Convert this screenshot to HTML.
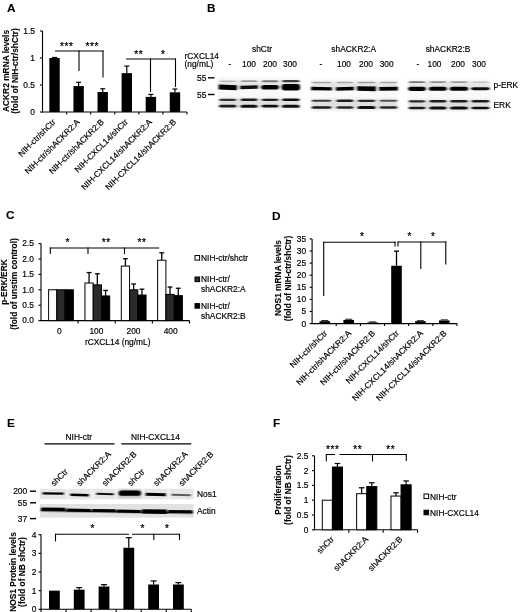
<!DOCTYPE html>
<html><head><meta charset="utf-8"><title>Figure</title>
<style>html,body{margin:0;padding:0;background:#fff}body{width:520px;height:612px;overflow:hidden}svg{display:block;font-family:"Liberation Sans",Arial,sans-serif}</style>
</head><body>
<svg width="520" height="612" viewBox="0 0 520 612">
<defs>
<filter id="b1" x="-20%" y="-150%" width="140%" height="400%"><feGaussianBlur stdDeviation="1.3 0.7"/></filter>
<filter id="b2" x="-20%" y="-150%" width="140%" height="400%"><feGaussianBlur stdDeviation="1.6 1.6"/></filter>
<filter id="soft"><feGaussianBlur stdDeviation="0.45"/></filter>
</defs>
<rect width="520" height="612" fill="#fff"/>
<g filter="url(#soft)">
<text x="7.00" y="11.70" font-size="11.8" text-anchor="start" font-weight="bold" fill="#000" stroke="#000" stroke-width="0.1">A</text>
<text x="207.00" y="11.70" font-size="11.8" text-anchor="start" font-weight="bold" fill="#000" stroke="#000" stroke-width="0.1">B</text>
<text x="6.00" y="219.20" font-size="11.8" text-anchor="start" font-weight="bold" fill="#000" stroke="#000" stroke-width="0.1">C</text>
<text x="272.00" y="219.50" font-size="11.8" text-anchor="start" font-weight="bold" fill="#000" stroke="#000" stroke-width="0.1">D</text>
<text x="7.00" y="426.70" font-size="11.8" text-anchor="start" font-weight="bold" fill="#000" stroke="#000" stroke-width="0.1">E</text>
<text x="273.00" y="426.70" font-size="11.8" text-anchor="start" font-weight="bold" fill="#000" stroke="#000" stroke-width="0.1">F</text>
<line x1="42.50" y1="31.00" x2="42.50" y2="112.50" stroke="#000" stroke-width="1.1"/>
<line x1="42.00" y1="112.00" x2="187.00" y2="112.00" stroke="#000" stroke-width="1.1"/>
<line x1="40.00" y1="112.00" x2="42.50" y2="112.00" stroke="#000" stroke-width="1.1"/>
<text x="35.00" y="114.90" font-size="8.4" text-anchor="end" fill="#000" stroke="#000" stroke-width="0.18">0</text>
<line x1="40.00" y1="85.00" x2="42.50" y2="85.00" stroke="#000" stroke-width="1.1"/>
<text x="35.00" y="87.90" font-size="8.4" text-anchor="end" fill="#000" stroke="#000" stroke-width="0.18">0.5</text>
<line x1="40.00" y1="58.00" x2="42.50" y2="58.00" stroke="#000" stroke-width="1.1"/>
<text x="35.00" y="60.90" font-size="8.4" text-anchor="end" fill="#000" stroke="#000" stroke-width="0.18">1</text>
<line x1="40.00" y1="31.00" x2="42.50" y2="31.00" stroke="#000" stroke-width="1.1"/>
<text x="35.00" y="33.90" font-size="8.4" text-anchor="end" fill="#000" stroke="#000" stroke-width="0.18">1.5</text>
<line x1="66.58" y1="112.00" x2="66.58" y2="114.50" stroke="#000" stroke-width="1.1"/>
<rect x="49.34" y="58.00" width="10.40" height="54.00" fill="#000"/>
<line x1="54.54" y1="57.46" x2="54.54" y2="58.00" stroke="#000" stroke-width="1.2"/>
<line x1="52.04" y1="57.46" x2="57.04" y2="57.46" stroke="#000" stroke-width="1.2"/>
<text x="56.24" y="122.60" font-size="8.4" text-anchor="end" transform="rotate(-45 56.24 122.60)" fill="#000" stroke="#000" stroke-width="0.18">NIH-ctr/shCtr</text>
<line x1="90.67" y1="112.00" x2="90.67" y2="114.50" stroke="#000" stroke-width="1.1"/>
<rect x="73.42" y="86.08" width="10.40" height="25.92" fill="#000"/>
<line x1="78.62" y1="82.30" x2="78.62" y2="86.08" stroke="#000" stroke-width="1.2"/>
<line x1="76.12" y1="82.30" x2="81.12" y2="82.30" stroke="#000" stroke-width="1.2"/>
<text x="80.33" y="122.60" font-size="8.4" text-anchor="end" transform="rotate(-45 80.33 122.60)" fill="#000" stroke="#000" stroke-width="0.18">NIH-ctr/shACKR2:A</text>
<line x1="114.75" y1="112.00" x2="114.75" y2="114.50" stroke="#000" stroke-width="1.1"/>
<rect x="97.51" y="92.02" width="10.40" height="19.98" fill="#000"/>
<line x1="102.71" y1="88.78" x2="102.71" y2="92.02" stroke="#000" stroke-width="1.2"/>
<line x1="100.21" y1="88.78" x2="105.21" y2="88.78" stroke="#000" stroke-width="1.2"/>
<text x="104.41" y="122.60" font-size="8.4" text-anchor="end" transform="rotate(-45 104.41 122.60)" fill="#000" stroke="#000" stroke-width="0.18">NIH-ctr/shACKR2:B</text>
<line x1="138.83" y1="112.00" x2="138.83" y2="114.50" stroke="#000" stroke-width="1.1"/>
<rect x="121.59" y="73.12" width="10.40" height="38.88" fill="#000"/>
<line x1="126.79" y1="66.10" x2="126.79" y2="73.12" stroke="#000" stroke-width="1.2"/>
<line x1="124.29" y1="66.10" x2="129.29" y2="66.10" stroke="#000" stroke-width="1.2"/>
<text x="128.49" y="122.60" font-size="8.4" text-anchor="end" transform="rotate(-45 128.49 122.60)" fill="#000" stroke="#000" stroke-width="0.18">NIH-CXCL14/shCtr</text>
<line x1="162.92" y1="112.00" x2="162.92" y2="114.50" stroke="#000" stroke-width="1.1"/>
<rect x="145.68" y="96.88" width="10.40" height="15.12" fill="#000"/>
<line x1="150.88" y1="94.45" x2="150.88" y2="96.88" stroke="#000" stroke-width="1.2"/>
<line x1="148.38" y1="94.45" x2="153.38" y2="94.45" stroke="#000" stroke-width="1.2"/>
<text x="152.57" y="122.60" font-size="8.4" text-anchor="end" transform="rotate(-45 152.57 122.60)" fill="#000" stroke="#000" stroke-width="0.18">NIH-CXCL14/shACKR2:A</text>
<line x1="187.00" y1="112.00" x2="187.00" y2="114.50" stroke="#000" stroke-width="1.1"/>
<rect x="169.76" y="92.29" width="10.40" height="19.71" fill="#000"/>
<line x1="174.96" y1="89.05" x2="174.96" y2="92.29" stroke="#000" stroke-width="1.2"/>
<line x1="172.46" y1="89.05" x2="177.46" y2="89.05" stroke="#000" stroke-width="1.2"/>
<text x="176.66" y="122.60" font-size="8.4" text-anchor="end" transform="rotate(-45 176.66 122.60)" fill="#000" stroke="#000" stroke-width="0.18">NIH-CXCL14/shACKR2:B</text>
<line x1="55.00" y1="51.00" x2="103.50" y2="51.00" stroke="#000" stroke-width="1.1"/>
<line x1="79.00" y1="50.50" x2="79.00" y2="71.00" stroke="#000" stroke-width="1.1"/>
<line x1="103.00" y1="50.50" x2="103.00" y2="77.50" stroke="#000" stroke-width="1.1"/>
<text x="66.80" y="49.80" font-size="10" text-anchor="middle" letter-spacing="0.6" fill="#000" stroke="#000" stroke-width="0.25">***</text>
<text x="92.30" y="49.80" font-size="10" text-anchor="middle" letter-spacing="0.6" fill="#000" stroke="#000" stroke-width="0.25">***</text>
<line x1="126.00" y1="59.00" x2="176.00" y2="59.00" stroke="#000" stroke-width="1.1"/>
<line x1="150.50" y1="58.50" x2="150.50" y2="92.00" stroke="#000" stroke-width="1.1"/>
<line x1="175.50" y1="58.50" x2="175.50" y2="87.00" stroke="#000" stroke-width="1.1"/>
<text x="138.80" y="57.80" font-size="10" text-anchor="middle" letter-spacing="0.6" fill="#000" stroke="#000" stroke-width="0.25">**</text>
<text x="163.30" y="57.80" font-size="10" text-anchor="middle" letter-spacing="0.6" fill="#000" stroke="#000" stroke-width="0.25">*</text>
<text x="8.90" y="71.00" font-size="8.4" text-anchor="middle" font-weight="bold" transform="rotate(-90 8.90 71.00)" fill="#000" stroke="#000" stroke-width="0.1">ACKR2 mRNA levels</text>
<text x="17.80" y="71.00" font-size="8.4" text-anchor="middle" font-weight="bold" transform="rotate(-90 17.80 71.00)" fill="#000" stroke="#000" stroke-width="0.1">(fold of NIH-ctr/shCtr)</text>
<text x="184.50" y="58.50" font-size="8.4" text-anchor="start" fill="#000" stroke="#000" stroke-width="0.18">rCXCL14</text>
<text x="184.50" y="67.00" font-size="8.4" text-anchor="start" fill="#000" stroke="#000" stroke-width="0.18">(ng/mL)</text>
<text x="197.00" y="80.80" font-size="8.4" text-anchor="start" fill="#000" stroke="#000" stroke-width="0.18">55</text>
<line x1="208.00" y1="77.80" x2="214.50" y2="77.80" stroke="#000" stroke-width="1.4"/>
<text x="197.00" y="97.60" font-size="8.4" text-anchor="start" fill="#000" stroke="#000" stroke-width="0.18">55</text>
<line x1="208.00" y1="94.50" x2="214.50" y2="94.50" stroke="#000" stroke-width="1.4"/>
<text x="262.00" y="51.50" font-size="8.4" text-anchor="middle" fill="#000" stroke="#000" stroke-width="0.18">shCtr</text>
<text x="230.00" y="66.50" font-size="8.4" text-anchor="middle" fill="#000" stroke="#000" stroke-width="0.18">-</text>
<text x="249.00" y="66.50" font-size="8.4" text-anchor="middle" fill="#000" stroke="#000" stroke-width="0.18">100</text>
<text x="270.00" y="66.50" font-size="8.4" text-anchor="middle" fill="#000" stroke="#000" stroke-width="0.18">200</text>
<text x="290.00" y="66.50" font-size="8.4" text-anchor="middle" fill="#000" stroke="#000" stroke-width="0.18">300</text>
<rect x="217.70" y="77.20" width="83.10" height="33.50" fill="#f9f9f9"/>
<rect x="218.7" y="98.3" width="81.1" height="9.4" fill="#000" opacity="0.10" filter="url(#b2)"/>
<rect x="218.7" y="80.7" width="81.1" height="7.1" fill="#000" opacity="0.08" filter="url(#b2)"/>
<rect x="218.9" y="80.40" width="17.7" height="1.60" rx="3.00" ry="0.80" fill="#000" opacity="0.22" filter="url(#b1)"/>
<polygon points="218.6,84.40 236.9,85.20 236.9,90.20 218.6,89.40" fill="#000" opacity="1" filter="url(#b1)"/>
<rect x="218.9" y="98.70" width="17.7" height="2.20" rx="3.00" ry="1.10" fill="#000" opacity="0.782" filter="url(#b1)"/>
<rect x="218.9" y="104.80" width="17.7" height="2.80" rx="3.00" ry="1.40" fill="#000" opacity="0.874" filter="url(#b1)"/>
<rect x="240.4" y="80.30" width="17.2" height="1.80" rx="3.00" ry="0.90" fill="#000" opacity="0.35" filter="url(#b1)"/>
<polygon points="240.1,85.85 257.9,85.35 257.9,88.75 240.1,89.25" fill="#000" opacity="0.95" filter="url(#b1)"/>
<rect x="240.4" y="98.60" width="17.2" height="2.40" rx="3.00" ry="1.20" fill="#000" opacity="0.874" filter="url(#b1)"/>
<rect x="240.4" y="104.70" width="17.2" height="3.00" rx="3.00" ry="1.50" fill="#000" opacity="0.92" filter="url(#b1)"/>
<rect x="261.4" y="80.20" width="17.2" height="2.00" rx="3.00" ry="1.00" fill="#000" opacity="0.5" filter="url(#b1)"/>
<rect x="261.1" y="85.00" width="17.8" height="4.60" rx="3.00" ry="2.30" fill="#000" opacity="1" filter="url(#b1)"/>
<rect x="261.4" y="98.65" width="17.2" height="2.30" rx="3.00" ry="1.15" fill="#000" opacity="0.874" filter="url(#b1)"/>
<rect x="261.4" y="104.80" width="17.2" height="2.80" rx="3.00" ry="1.40" fill="#000" opacity="0.92" filter="url(#b1)"/>
<rect x="281.9" y="80.10" width="17.9" height="2.20" rx="3.00" ry="1.10" fill="#000" opacity="0.75" filter="url(#b1)"/>
<rect x="281.6" y="84.10" width="18.5" height="6.40" rx="3.00" ry="3.20" fill="#000" opacity="1" filter="url(#b1)"/>
<rect x="281.9" y="98.55" width="17.9" height="2.50" rx="3.00" ry="1.25" fill="#000" opacity="0.92" filter="url(#b1)"/>
<rect x="281.9" y="104.65" width="17.9" height="3.10" rx="3.00" ry="1.55" fill="#000" opacity="0.92" filter="url(#b1)"/>
<text x="353.70" y="51.50" font-size="8.4" text-anchor="middle" fill="#000" stroke="#000" stroke-width="0.18">shACKR2:A</text>
<text x="321.00" y="66.50" font-size="8.4" text-anchor="middle" fill="#000" stroke="#000" stroke-width="0.18">-</text>
<text x="344.00" y="66.50" font-size="8.4" text-anchor="middle" fill="#000" stroke="#000" stroke-width="0.18">100</text>
<text x="366.00" y="66.50" font-size="8.4" text-anchor="middle" fill="#000" stroke="#000" stroke-width="0.18">200</text>
<text x="386.70" y="66.50" font-size="8.4" text-anchor="middle" fill="#000" stroke="#000" stroke-width="0.18">300</text>
<rect x="310.40" y="78.50" width="88.10" height="33.50" fill="#f9f9f9"/>
<rect x="311.4" y="99.3" width="86.1" height="9.7" fill="#000" opacity="0.10" filter="url(#b2)"/>
<rect x="311.4" y="82.0" width="86.1" height="7.2" fill="#000" opacity="0.08" filter="url(#b2)"/>
<rect x="311.4" y="81.75" width="20.2" height="1.50" rx="3.00" ry="0.75" fill="#000" opacity="0.3" filter="url(#b1)"/>
<polygon points="311.1,86.85 331.9,87.15 331.9,90.55 311.1,90.25" fill="#000" opacity="1" filter="url(#b1)"/>
<rect x="311.4" y="99.80" width="20.2" height="2.00" rx="3.00" ry="1.00" fill="#000" opacity="0.7360000000000001" filter="url(#b1)"/>
<rect x="311.4" y="106.20" width="20.2" height="2.60" rx="3.00" ry="1.30" fill="#000" opacity="0.874" filter="url(#b1)"/>
<rect x="336.2" y="81.75" width="17.4" height="1.50" rx="3.00" ry="0.75" fill="#000" opacity="0.3" filter="url(#b1)"/>
<polygon points="335.9,87.25 353.9,86.75 353.9,90.15 335.9,90.65" fill="#000" opacity="1" filter="url(#b1)"/>
<rect x="336.2" y="99.60" width="17.4" height="2.40" rx="3.00" ry="1.20" fill="#000" opacity="0.874" filter="url(#b1)"/>
<rect x="336.2" y="106.20" width="17.4" height="2.60" rx="3.00" ry="1.30" fill="#000" opacity="0.8280000000000001" filter="url(#b1)"/>
<rect x="357.4" y="81.70" width="18.2" height="1.60" rx="3.00" ry="0.80" fill="#000" opacity="0.35" filter="url(#b1)"/>
<polygon points="357.1,86.25 375.9,86.55 375.9,91.15 357.1,90.85" fill="#000" opacity="1" filter="url(#b1)"/>
<rect x="357.4" y="99.65" width="18.2" height="2.30" rx="3.00" ry="1.15" fill="#000" opacity="0.8280000000000001" filter="url(#b1)"/>
<rect x="357.4" y="105.90" width="18.2" height="3.20" rx="3.00" ry="1.60" fill="#000" opacity="0.92" filter="url(#b1)"/>
<rect x="379.4" y="81.75" width="18.2" height="1.50" rx="3.00" ry="0.75" fill="#000" opacity="0.3" filter="url(#b1)"/>
<polygon points="379.1,87.00 397.9,86.70 397.9,90.40 379.1,90.70" fill="#000" opacity="1" filter="url(#b1)"/>
<rect x="379.4" y="99.85" width="18.2" height="1.90" rx="3.00" ry="0.95" fill="#000" opacity="0.644" filter="url(#b1)"/>
<rect x="379.4" y="106.20" width="18.2" height="2.60" rx="3.00" ry="1.30" fill="#000" opacity="0.8280000000000001" filter="url(#b1)"/>
<text x="448.00" y="51.50" font-size="8.4" text-anchor="middle" fill="#000" stroke="#000" stroke-width="0.18">shACKR2:B</text>
<text x="418.00" y="66.50" font-size="8.4" text-anchor="middle" fill="#000" stroke="#000" stroke-width="0.18">-</text>
<text x="434.50" y="66.50" font-size="8.4" text-anchor="middle" fill="#000" stroke="#000" stroke-width="0.18">100</text>
<text x="458.00" y="66.50" font-size="8.4" text-anchor="middle" fill="#000" stroke="#000" stroke-width="0.18">200</text>
<text x="479.00" y="66.50" font-size="8.4" text-anchor="middle" fill="#000" stroke="#000" stroke-width="0.18">300</text>
<rect x="407.30" y="78.10" width="83.20" height="34.40" fill="#f9f9f9"/>
<rect x="408.3" y="99.8" width="81.2" height="9.7" fill="#000" opacity="0.10" filter="url(#b2)"/>
<rect x="408.3" y="81.6" width="81.2" height="7.7" fill="#000" opacity="0.08" filter="url(#b2)"/>
<rect x="408.4" y="81.25" width="17.2" height="1.70" rx="3.00" ry="0.85" fill="#000" opacity="0.5" filter="url(#b1)"/>
<rect x="408.1" y="86.70" width="17.8" height="4.20" rx="3.00" ry="2.10" fill="#000" opacity="1" filter="url(#b1)"/>
<rect x="408.4" y="100.20" width="17.2" height="2.20" rx="3.00" ry="1.10" fill="#000" opacity="0.8280000000000001" filter="url(#b1)"/>
<rect x="408.4" y="106.65" width="17.2" height="2.70" rx="3.00" ry="1.35" fill="#000" opacity="0.874" filter="url(#b1)"/>
<rect x="429.2" y="81.30" width="17.4" height="1.60" rx="3.00" ry="0.80" fill="#000" opacity="0.4" filter="url(#b1)"/>
<rect x="428.9" y="86.80" width="18.0" height="4.00" rx="3.00" ry="2.00" fill="#000" opacity="1" filter="url(#b1)"/>
<rect x="429.2" y="100.00" width="17.4" height="2.60" rx="3.00" ry="1.30" fill="#000" opacity="0.874" filter="url(#b1)"/>
<rect x="429.2" y="106.50" width="17.4" height="3.00" rx="3.00" ry="1.50" fill="#000" opacity="0.92" filter="url(#b1)"/>
<rect x="450.0" y="81.30" width="17.9" height="1.60" rx="3.00" ry="0.80" fill="#000" opacity="0.35" filter="url(#b1)"/>
<rect x="449.7" y="86.80" width="18.5" height="4.00" rx="3.00" ry="2.00" fill="#000" opacity="1" filter="url(#b1)"/>
<rect x="450.0" y="100.05" width="17.9" height="2.50" rx="3.00" ry="1.25" fill="#000" opacity="0.874" filter="url(#b1)"/>
<rect x="450.0" y="106.50" width="17.9" height="3.00" rx="3.00" ry="1.50" fill="#000" opacity="0.92" filter="url(#b1)"/>
<rect x="471.2" y="81.40" width="18.4" height="1.40" rx="3.00" ry="0.70" fill="#000" opacity="0.2" filter="url(#b1)"/>
<rect x="470.9" y="87.35" width="19.0" height="2.90" rx="3.00" ry="1.45" fill="#000" opacity="0.95" filter="url(#b1)"/>
<rect x="471.2" y="100.10" width="18.4" height="2.40" rx="3.00" ry="1.20" fill="#000" opacity="0.874" filter="url(#b1)"/>
<rect x="471.2" y="106.70" width="18.4" height="2.60" rx="3.00" ry="1.30" fill="#000" opacity="0.92" filter="url(#b1)"/>
<text x="493.50" y="88.00" font-size="8.4" text-anchor="start" fill="#000" stroke="#000" stroke-width="0.18">p-ERK</text>
<text x="493.50" y="107.50" font-size="8.4" text-anchor="start" fill="#000" stroke="#000" stroke-width="0.18">ERK</text>
<line x1="41.00" y1="243.60" x2="41.00" y2="321.10" stroke="#000" stroke-width="1.1"/>
<line x1="40.50" y1="320.60" x2="189.50" y2="320.60" stroke="#000" stroke-width="1.1"/>
<line x1="38.50" y1="320.60" x2="41.00" y2="320.60" stroke="#000" stroke-width="1.1"/>
<text x="34.00" y="323.40" font-size="8.4" text-anchor="end" fill="#000" stroke="#000" stroke-width="0.18">0.0</text>
<line x1="38.50" y1="305.20" x2="41.00" y2="305.20" stroke="#000" stroke-width="1.1"/>
<text x="34.00" y="308.00" font-size="8.4" text-anchor="end" fill="#000" stroke="#000" stroke-width="0.18">0.5</text>
<line x1="38.50" y1="289.80" x2="41.00" y2="289.80" stroke="#000" stroke-width="1.1"/>
<text x="34.00" y="292.60" font-size="8.4" text-anchor="end" fill="#000" stroke="#000" stroke-width="0.18">1.0</text>
<line x1="38.50" y1="274.40" x2="41.00" y2="274.40" stroke="#000" stroke-width="1.1"/>
<text x="34.00" y="277.20" font-size="8.4" text-anchor="end" fill="#000" stroke="#000" stroke-width="0.18">1.5</text>
<line x1="38.50" y1="259.00" x2="41.00" y2="259.00" stroke="#000" stroke-width="1.1"/>
<text x="34.00" y="261.80" font-size="8.4" text-anchor="end" fill="#000" stroke="#000" stroke-width="0.18">2.0</text>
<line x1="38.50" y1="243.60" x2="41.00" y2="243.60" stroke="#000" stroke-width="1.1"/>
<text x="34.00" y="246.40" font-size="8.4" text-anchor="end" fill="#000" stroke="#000" stroke-width="0.18">2.5</text>
<line x1="78.12" y1="320.60" x2="78.12" y2="323.60" stroke="#000" stroke-width="1.1"/>
<rect x="48.60" y="289.80" width="8.25" height="30.80" fill="#fff" stroke="#000" stroke-width="1.0"/>
<rect x="56.85" y="289.80" width="8.25" height="30.80" fill="#2b2b2b" stroke="#000" stroke-width="1.0"/>
<rect x="65.10" y="289.80" width="8.25" height="30.80" fill="#000" stroke="#000" stroke-width="1.0"/>
<text x="59.26" y="334.30" font-size="8.4" text-anchor="middle" fill="#000" stroke="#000" stroke-width="0.18">0</text>
<line x1="115.25" y1="320.60" x2="115.25" y2="323.60" stroke="#000" stroke-width="1.1"/>
<line x1="89.08" y1="272.55" x2="89.08" y2="283.02" stroke="#000" stroke-width="1.3"/>
<line x1="86.67" y1="272.55" x2="91.48" y2="272.55" stroke="#000" stroke-width="1.3"/>
<rect x="84.95" y="283.02" width="8.25" height="37.58" fill="#fff" stroke="#000" stroke-width="1.0"/>
<line x1="97.33" y1="273.78" x2="97.33" y2="284.87" stroke="#000" stroke-width="1.3"/>
<line x1="94.92" y1="273.78" x2="99.73" y2="273.78" stroke="#000" stroke-width="1.3"/>
<rect x="93.20" y="284.87" width="8.25" height="35.73" fill="#2b2b2b" stroke="#000" stroke-width="1.0"/>
<line x1="105.58" y1="290.42" x2="105.58" y2="295.96" stroke="#000" stroke-width="1.3"/>
<line x1="103.17" y1="290.42" x2="107.98" y2="290.42" stroke="#000" stroke-width="1.3"/>
<rect x="101.45" y="295.96" width="8.25" height="24.64" fill="#000" stroke="#000" stroke-width="1.0"/>
<text x="96.39" y="334.30" font-size="8.4" text-anchor="middle" fill="#000" stroke="#000" stroke-width="0.18">100</text>
<line x1="152.38" y1="320.60" x2="152.38" y2="323.60" stroke="#000" stroke-width="1.1"/>
<line x1="125.43" y1="258.69" x2="125.43" y2="266.08" stroke="#000" stroke-width="1.3"/>
<line x1="123.03" y1="258.69" x2="127.83" y2="258.69" stroke="#000" stroke-width="1.3"/>
<rect x="121.30" y="266.08" width="8.25" height="54.52" fill="#fff" stroke="#000" stroke-width="1.0"/>
<line x1="133.68" y1="283.95" x2="133.68" y2="289.80" stroke="#000" stroke-width="1.3"/>
<line x1="131.28" y1="283.95" x2="136.08" y2="283.95" stroke="#000" stroke-width="1.3"/>
<rect x="129.55" y="289.80" width="8.25" height="30.80" fill="#2b2b2b" stroke="#000" stroke-width="1.0"/>
<line x1="141.93" y1="289.18" x2="141.93" y2="295.04" stroke="#000" stroke-width="1.3"/>
<line x1="139.53" y1="289.18" x2="144.33" y2="289.18" stroke="#000" stroke-width="1.3"/>
<rect x="137.80" y="295.04" width="8.25" height="25.56" fill="#000" stroke="#000" stroke-width="1.0"/>
<text x="133.51" y="334.30" font-size="8.4" text-anchor="middle" fill="#000" stroke="#000" stroke-width="0.18">200</text>
<line x1="189.50" y1="320.60" x2="189.50" y2="323.60" stroke="#000" stroke-width="1.1"/>
<line x1="161.78" y1="252.84" x2="161.78" y2="260.23" stroke="#000" stroke-width="1.3"/>
<line x1="159.38" y1="252.84" x2="164.18" y2="252.84" stroke="#000" stroke-width="1.3"/>
<rect x="157.65" y="260.23" width="8.25" height="60.37" fill="#fff" stroke="#000" stroke-width="1.0"/>
<line x1="170.03" y1="287.03" x2="170.03" y2="294.42" stroke="#000" stroke-width="1.3"/>
<line x1="167.62" y1="287.03" x2="172.43" y2="287.03" stroke="#000" stroke-width="1.3"/>
<rect x="165.90" y="294.42" width="8.25" height="26.18" fill="#2b2b2b" stroke="#000" stroke-width="1.0"/>
<line x1="178.28" y1="288.26" x2="178.28" y2="295.65" stroke="#000" stroke-width="1.3"/>
<line x1="175.88" y1="288.26" x2="180.68" y2="288.26" stroke="#000" stroke-width="1.3"/>
<rect x="174.15" y="295.65" width="8.25" height="24.95" fill="#000" stroke="#000" stroke-width="1.0"/>
<text x="170.64" y="334.30" font-size="8.4" text-anchor="middle" fill="#000" stroke="#000" stroke-width="0.18">400</text>
<text x="117.70" y="345.30" font-size="8.4" text-anchor="middle" fill="#000" stroke="#000" stroke-width="0.18">rCXCL14 (ng/mL)</text>
<line x1="49.80" y1="248.00" x2="159.20" y2="248.00" stroke="#000" stroke-width="1.1"/>
<line x1="50.30" y1="247.50" x2="50.30" y2="254.00" stroke="#000" stroke-width="1.1"/>
<line x1="88.00" y1="247.50" x2="88.00" y2="254.00" stroke="#000" stroke-width="1.1"/>
<line x1="124.50" y1="247.50" x2="124.50" y2="254.00" stroke="#000" stroke-width="1.1"/>
<text x="67.80" y="245.60" font-size="10" text-anchor="middle" letter-spacing="0.6" fill="#000" stroke="#000" stroke-width="0.25">*</text>
<text x="106.30" y="245.60" font-size="10" text-anchor="middle" letter-spacing="0.6" fill="#000" stroke="#000" stroke-width="0.25">**</text>
<text x="142.00" y="245.60" font-size="10" text-anchor="middle" letter-spacing="0.6" fill="#000" stroke="#000" stroke-width="0.25">**</text>
<text x="6.50" y="282.00" font-size="8.4" text-anchor="middle" font-weight="bold" transform="rotate(-90 6.50 282.00)" fill="#000" stroke="#000" stroke-width="0.1">p-ERK/ERK</text>
<text x="17.20" y="284.00" font-size="8.4" text-anchor="middle" font-weight="bold" transform="rotate(-90 17.20 284.00)" fill="#000" stroke="#000" stroke-width="0.1">(fold of unstim control)</text>
<rect x="195.00" y="255.50" width="4.60" height="4.60" fill="#fff" stroke="#000" stroke-width="1.0"/>
<text x="201.00" y="260.90" font-size="8.4" text-anchor="start" fill="#000" stroke="#000" stroke-width="0.18">NIH-ctr/shctr</text>
<rect x="195.00" y="277.00" width="4.60" height="4.60" fill="#2b2b2b" stroke="#000" stroke-width="1.0"/>
<text x="201.00" y="282.40" font-size="8.4" text-anchor="start" fill="#000" stroke="#000" stroke-width="0.18">NIH-ctr/</text>
<text x="201.00" y="292.00" font-size="8.4" text-anchor="start" fill="#000" stroke="#000" stroke-width="0.18">shACKR2:A</text>
<rect x="195.00" y="303.60" width="4.60" height="4.60" fill="#000" stroke="#000" stroke-width="1.0"/>
<text x="201.00" y="309.00" font-size="8.4" text-anchor="start" fill="#000" stroke="#000" stroke-width="0.18">NIH-ctr/</text>
<text x="201.00" y="318.50" font-size="8.4" text-anchor="start" fill="#000" stroke="#000" stroke-width="0.18">shACKR2:B</text>
<line x1="312.10" y1="238.90" x2="312.10" y2="324.10" stroke="#000" stroke-width="1.1"/>
<line x1="311.60" y1="323.60" x2="457.00" y2="323.60" stroke="#000" stroke-width="1.1"/>
<line x1="309.60" y1="323.60" x2="312.10" y2="323.60" stroke="#000" stroke-width="1.1"/>
<text x="306.20" y="326.50" font-size="8.4" text-anchor="end" fill="#000" stroke="#000" stroke-width="0.18">0</text>
<line x1="309.60" y1="311.50" x2="312.10" y2="311.50" stroke="#000" stroke-width="1.1"/>
<text x="306.20" y="314.40" font-size="8.4" text-anchor="end" fill="#000" stroke="#000" stroke-width="0.18">5</text>
<line x1="309.60" y1="299.40" x2="312.10" y2="299.40" stroke="#000" stroke-width="1.1"/>
<text x="306.20" y="302.30" font-size="8.4" text-anchor="end" fill="#000" stroke="#000" stroke-width="0.18">10</text>
<line x1="309.60" y1="287.30" x2="312.10" y2="287.30" stroke="#000" stroke-width="1.1"/>
<text x="306.20" y="290.20" font-size="8.4" text-anchor="end" fill="#000" stroke="#000" stroke-width="0.18">15</text>
<line x1="309.60" y1="275.20" x2="312.10" y2="275.20" stroke="#000" stroke-width="1.1"/>
<text x="306.20" y="278.10" font-size="8.4" text-anchor="end" fill="#000" stroke="#000" stroke-width="0.18">20</text>
<line x1="309.60" y1="263.10" x2="312.10" y2="263.10" stroke="#000" stroke-width="1.1"/>
<text x="306.20" y="266.00" font-size="8.4" text-anchor="end" fill="#000" stroke="#000" stroke-width="0.18">25</text>
<line x1="309.60" y1="251.00" x2="312.10" y2="251.00" stroke="#000" stroke-width="1.1"/>
<text x="306.20" y="253.90" font-size="8.4" text-anchor="end" fill="#000" stroke="#000" stroke-width="0.18">30</text>
<line x1="309.60" y1="238.90" x2="312.10" y2="238.90" stroke="#000" stroke-width="1.1"/>
<text x="306.20" y="241.80" font-size="8.4" text-anchor="end" fill="#000" stroke="#000" stroke-width="0.18">35</text>
<line x1="336.25" y1="323.60" x2="336.25" y2="326.10" stroke="#000" stroke-width="1.1"/>
<rect x="319.50" y="321.18" width="10.60" height="2.42" fill="#000"/>
<line x1="321.30" y1="320.58" x2="328.30" y2="320.58" stroke="#000" stroke-width="0.9"/>
<text x="327.80" y="333.80" font-size="8.4" text-anchor="end" transform="rotate(-45 327.80 333.80)" fill="#000" stroke="#000" stroke-width="0.18">NIH-ctr/shCtr</text>
<line x1="360.40" y1="323.60" x2="360.40" y2="326.10" stroke="#000" stroke-width="1.1"/>
<rect x="343.40" y="319.97" width="10.60" height="3.63" fill="#000"/>
<line x1="345.20" y1="319.24" x2="352.20" y2="319.24" stroke="#000" stroke-width="0.9"/>
<text x="351.70" y="333.80" font-size="8.4" text-anchor="end" transform="rotate(-45 351.70 333.80)" fill="#000" stroke="#000" stroke-width="0.18">NIH-ctr/shACKR2:A</text>
<line x1="384.55" y1="323.60" x2="384.55" y2="326.10" stroke="#000" stroke-width="1.1"/>
<rect x="367.30" y="322.39" width="10.60" height="1.21" fill="#000"/>
<line x1="369.10" y1="321.91" x2="376.10" y2="321.91" stroke="#000" stroke-width="0.9"/>
<text x="375.60" y="333.80" font-size="8.4" text-anchor="end" transform="rotate(-45 375.60 333.80)" fill="#000" stroke="#000" stroke-width="0.18">NIH-ctr/shACKR2:B</text>
<line x1="408.70" y1="323.60" x2="408.70" y2="326.10" stroke="#000" stroke-width="1.1"/>
<rect x="391.20" y="265.76" width="10.60" height="57.84" fill="#000"/>
<line x1="396.50" y1="251.12" x2="396.50" y2="265.76" stroke="#000" stroke-width="1.3"/>
<line x1="394.00" y1="251.12" x2="399.00" y2="251.12" stroke="#000" stroke-width="1.3"/>
<text x="399.50" y="333.80" font-size="8.4" text-anchor="end" transform="rotate(-45 399.50 333.80)" fill="#000" stroke="#000" stroke-width="0.18">NIH-CXCL14/shCtr</text>
<line x1="432.85" y1="323.60" x2="432.85" y2="326.10" stroke="#000" stroke-width="1.1"/>
<rect x="415.10" y="321.18" width="10.60" height="2.42" fill="#000"/>
<line x1="416.90" y1="320.70" x2="423.90" y2="320.70" stroke="#000" stroke-width="0.9"/>
<text x="423.40" y="333.80" font-size="8.4" text-anchor="end" transform="rotate(-45 423.40 333.80)" fill="#000" stroke="#000" stroke-width="0.18">NIH-CXCL14/shACKR2:A</text>
<line x1="457.00" y1="323.60" x2="457.00" y2="326.10" stroke="#000" stroke-width="1.1"/>
<rect x="439.00" y="320.45" width="10.60" height="3.15" fill="#000"/>
<line x1="440.80" y1="319.85" x2="447.80" y2="319.85" stroke="#000" stroke-width="0.9"/>
<text x="447.30" y="333.80" font-size="8.4" text-anchor="end" transform="rotate(-45 447.30 333.80)" fill="#000" stroke="#000" stroke-width="0.18">NIH-CXCL14/shACKR2:B</text>
<line x1="323.20" y1="242.20" x2="395.50" y2="242.20" stroke="#000" stroke-width="1.1"/>
<line x1="323.70" y1="241.70" x2="323.70" y2="296.00" stroke="#000" stroke-width="1.1"/>
<line x1="395.00" y1="241.50" x2="395.00" y2="246.50" stroke="#000" stroke-width="1.1"/>
<line x1="397.50" y1="242.00" x2="446.30" y2="242.00" stroke="#000" stroke-width="1.1"/>
<line x1="398.00" y1="241.50" x2="398.00" y2="246.50" stroke="#000" stroke-width="1.1"/>
<line x1="420.80" y1="241.50" x2="420.80" y2="269.00" stroke="#000" stroke-width="1.1"/>
<line x1="445.80" y1="241.50" x2="445.80" y2="264.50" stroke="#000" stroke-width="1.1"/>
<text x="362.30" y="240.30" font-size="10" text-anchor="middle" letter-spacing="0.6" fill="#000" stroke="#000" stroke-width="0.25">*</text>
<text x="409.80" y="240.30" font-size="10" text-anchor="middle" letter-spacing="0.6" fill="#000" stroke="#000" stroke-width="0.25">*</text>
<text x="433.30" y="240.30" font-size="10" text-anchor="middle" letter-spacing="0.6" fill="#000" stroke="#000" stroke-width="0.25">*</text>
<text x="280.80" y="278.00" font-size="8.4" text-anchor="middle" font-weight="bold" transform="rotate(-90 280.80 278.00)" fill="#000" stroke="#000" stroke-width="0.1">NOS1 mRNA levels</text>
<text x="290.60" y="278.50" font-size="8.4" text-anchor="middle" font-weight="bold" transform="rotate(-90 290.60 278.50)" fill="#000" stroke="#000" stroke-width="0.1">(fold of NIH-ctr/shCtr)</text>
<text x="78.80" y="439.80" font-size="8.4" text-anchor="middle" fill="#000" stroke="#000" stroke-width="0.18">NIH-ctr</text>
<line x1="44.50" y1="443.80" x2="114.50" y2="443.80" stroke="#000" stroke-width="1.2"/>
<text x="155.50" y="439.80" font-size="8.4" text-anchor="middle" fill="#000" stroke="#000" stroke-width="0.18">NIH-CXCL14</text>
<line x1="121.30" y1="443.80" x2="191.30" y2="443.80" stroke="#000" stroke-width="1.2"/>
<text x="54.30" y="486.50" font-size="8.4" text-anchor="start" transform="rotate(-45 54.30 486.50)" fill="#000" stroke="#000" stroke-width="0.18">shCtr</text>
<text x="79.90" y="486.50" font-size="8.4" text-anchor="start" transform="rotate(-45 79.90 486.50)" fill="#000" stroke="#000" stroke-width="0.18">shACKR2:A</text>
<text x="105.50" y="486.50" font-size="8.4" text-anchor="start" transform="rotate(-45 105.50 486.50)" fill="#000" stroke="#000" stroke-width="0.18">shACKR2:B</text>
<text x="131.10" y="486.50" font-size="8.4" text-anchor="start" transform="rotate(-45 131.10 486.50)" fill="#000" stroke="#000" stroke-width="0.18">shCtr</text>
<text x="156.70" y="486.50" font-size="8.4" text-anchor="start" transform="rotate(-45 156.70 486.50)" fill="#000" stroke="#000" stroke-width="0.18">shACKR2:A</text>
<text x="182.30" y="486.50" font-size="8.4" text-anchor="start" transform="rotate(-45 182.30 486.50)" fill="#000" stroke="#000" stroke-width="0.18">shACKR2:B</text>
<rect x="40.00" y="488.70" width="153.60" height="10.60" fill="#e6e6e6"/>
<rect x="40.00" y="504.00" width="153.60" height="13.60" fill="#e2e2e2"/>
<rect x="66.3" y="488.7" width="2.4" height="10.6" fill="#fff" opacity="0.55" filter="url(#b1)"/>
<rect x="91.3" y="488.7" width="2.4" height="10.6" fill="#fff" opacity="0.55" filter="url(#b1)"/>
<rect x="115.3" y="488.7" width="2.4" height="10.6" fill="#fff" opacity="0.55" filter="url(#b1)"/>
<rect x="141.8" y="488.7" width="2.4" height="10.6" fill="#fff" opacity="0.55" filter="url(#b1)"/>
<rect x="167.3" y="488.7" width="2.4" height="10.6" fill="#fff" opacity="0.55" filter="url(#b1)"/>
<polygon points="42.5,492.25 63.7,492.55 63.7,494.75 42.5,494.45" fill="#000" opacity="1.0" filter="url(#b1)"/>
<polygon points="70.4,493.45 88.7,494.05 88.7,496.55 70.4,495.95" fill="#000" opacity="1.0" filter="url(#b1)"/>
<polygon points="96.3,492.85 113.7,493.15 113.7,495.15 96.3,494.85" fill="#000" opacity="0.92" filter="url(#b1)"/>
<rect x="118.7" y="490.60" width="22.1" height="5.20" rx="3.00" ry="2.60" fill="#000" opacity="1.0" filter="url(#b1)"/>
<polygon points="145.6,492.75 165.8,493.25 165.8,496.25 145.6,495.75" fill="#000" opacity="1.0" filter="url(#b1)"/>
<polygon points="171.5,493.80 190.8,494.30 190.8,496.20 171.5,495.70" fill="#000" opacity="0.6" filter="url(#b1)"/>
<rect x="119" y="490" width="22" height="7" fill="#000" opacity="0.25" filter="url(#b2)"/>
<polygon points="41.0,507.40 65.5,507.80 65.5,511.00 41.0,510.60" fill="#000" opacity="1.0" filter="url(#b1)"/>
<polygon points="66.5,508.50 91.0,508.90 91.0,511.90 66.5,511.50" fill="#000" opacity="1.0" filter="url(#b1)"/>
<polygon points="92.0,508.90 116.0,509.30 116.0,512.30 92.0,511.90" fill="#000" opacity="1.0" filter="url(#b1)"/>
<polygon points="117.0,509.50 141.0,509.90 141.0,512.90 117.0,512.50" fill="#000" opacity="1.0" filter="url(#b1)"/>
<polygon points="142.0,509.20 167.0,509.60 167.0,514.00 142.0,513.60" fill="#000" opacity="1.0" filter="url(#b1)"/>
<polygon points="168.0,509.90 192.5,510.30 192.5,513.10 168.0,512.70" fill="#000" opacity="1.0" filter="url(#b1)"/>
<rect x="41.0" y="509.6" width="151.6" height="1.8" fill="#000" opacity="0.9" filter="url(#b1)" transform="rotate(0.9 40 510)"/>
<text x="27.20" y="494.20" font-size="8.4" text-anchor="end" fill="#000" stroke="#000" stroke-width="0.18">200</text>
<line x1="30.00" y1="491.20" x2="36.00" y2="491.20" stroke="#000" stroke-width="1.4"/>
<text x="27.20" y="506.00" font-size="8.4" text-anchor="end" fill="#000" stroke="#000" stroke-width="0.18">55</text>
<line x1="30.00" y1="502.80" x2="36.00" y2="502.80" stroke="#000" stroke-width="1.4"/>
<text x="27.20" y="522.00" font-size="8.4" text-anchor="end" fill="#000" stroke="#000" stroke-width="0.18">37</text>
<line x1="30.00" y1="518.60" x2="36.00" y2="518.60" stroke="#000" stroke-width="1.4"/>
<text x="197.00" y="496.70" font-size="8.4" text-anchor="start" fill="#000" stroke="#000" stroke-width="0.18">Nos1</text>
<text x="197.00" y="514.00" font-size="8.4" text-anchor="start" fill="#000" stroke="#000" stroke-width="0.18">Actin</text>
<line x1="41.00" y1="534.30" x2="41.00" y2="612.00" stroke="#000" stroke-width="1.1"/>
<line x1="40.50" y1="609.30" x2="191.30" y2="609.30" stroke="#000" stroke-width="1.1"/>
<line x1="38.50" y1="609.30" x2="41.00" y2="609.30" stroke="#000" stroke-width="1.1"/>
<text x="36.50" y="612.20" font-size="8.4" text-anchor="end" fill="#000" stroke="#000" stroke-width="0.18">0</text>
<line x1="38.50" y1="590.65" x2="41.00" y2="590.65" stroke="#000" stroke-width="1.1"/>
<text x="36.50" y="593.55" font-size="8.4" text-anchor="end" fill="#000" stroke="#000" stroke-width="0.18">1</text>
<line x1="38.50" y1="572.00" x2="41.00" y2="572.00" stroke="#000" stroke-width="1.1"/>
<text x="36.50" y="574.90" font-size="8.4" text-anchor="end" fill="#000" stroke="#000" stroke-width="0.18">2</text>
<line x1="38.50" y1="553.35" x2="41.00" y2="553.35" stroke="#000" stroke-width="1.1"/>
<text x="36.50" y="556.25" font-size="8.4" text-anchor="end" fill="#000" stroke="#000" stroke-width="0.18">3</text>
<line x1="38.50" y1="534.70" x2="41.00" y2="534.70" stroke="#000" stroke-width="1.1"/>
<text x="36.50" y="537.60" font-size="8.4" text-anchor="end" fill="#000" stroke="#000" stroke-width="0.18">4</text>
<line x1="66.05" y1="609.30" x2="66.05" y2="612.00" stroke="#000" stroke-width="1.1"/>
<rect x="49.00" y="590.65" width="10.80" height="18.65" fill="#000"/>
<line x1="91.10" y1="609.30" x2="91.10" y2="612.00" stroke="#000" stroke-width="1.1"/>
<rect x="73.80" y="589.72" width="10.80" height="19.58" fill="#000"/>
<line x1="79.20" y1="587.67" x2="79.20" y2="589.72" stroke="#000" stroke-width="1.2"/>
<line x1="76.20" y1="587.67" x2="82.20" y2="587.67" stroke="#000" stroke-width="1.2"/>
<line x1="116.15" y1="609.30" x2="116.15" y2="612.00" stroke="#000" stroke-width="1.1"/>
<rect x="98.60" y="586.55" width="10.80" height="22.75" fill="#000"/>
<line x1="104.00" y1="584.68" x2="104.00" y2="586.55" stroke="#000" stroke-width="1.2"/>
<line x1="101.00" y1="584.68" x2="107.00" y2="584.68" stroke="#000" stroke-width="1.2"/>
<line x1="141.20" y1="609.30" x2="141.20" y2="612.00" stroke="#000" stroke-width="1.1"/>
<rect x="123.40" y="547.75" width="10.80" height="61.54" fill="#000"/>
<line x1="128.80" y1="537.68" x2="128.80" y2="547.75" stroke="#000" stroke-width="1.2"/>
<line x1="125.80" y1="537.68" x2="131.80" y2="537.68" stroke="#000" stroke-width="1.2"/>
<line x1="166.25" y1="609.30" x2="166.25" y2="612.00" stroke="#000" stroke-width="1.1"/>
<rect x="148.20" y="584.50" width="10.80" height="24.80" fill="#000"/>
<line x1="153.60" y1="580.95" x2="153.60" y2="584.50" stroke="#000" stroke-width="1.2"/>
<line x1="150.60" y1="580.95" x2="156.60" y2="580.95" stroke="#000" stroke-width="1.2"/>
<line x1="191.30" y1="609.30" x2="191.30" y2="612.00" stroke="#000" stroke-width="1.1"/>
<rect x="173.00" y="584.50" width="10.80" height="24.80" fill="#000"/>
<line x1="178.40" y1="582.63" x2="178.40" y2="584.50" stroke="#000" stroke-width="1.2"/>
<line x1="175.40" y1="582.63" x2="181.40" y2="582.63" stroke="#000" stroke-width="1.2"/>
<line x1="55.00" y1="534.30" x2="129.00" y2="534.30" stroke="#000" stroke-width="1.1"/>
<line x1="55.50" y1="533.80" x2="55.50" y2="541.30" stroke="#000" stroke-width="1.1"/>
<line x1="132.00" y1="534.30" x2="180.00" y2="534.30" stroke="#000" stroke-width="1.1"/>
<line x1="153.80" y1="533.80" x2="153.80" y2="540.00" stroke="#000" stroke-width="1.1"/>
<line x1="179.50" y1="533.80" x2="179.50" y2="540.00" stroke="#000" stroke-width="1.1"/>
<text x="92.80" y="532.30" font-size="10" text-anchor="middle" letter-spacing="0.6" fill="#000" stroke="#000" stroke-width="0.25">*</text>
<text x="142.80" y="532.30" font-size="10" text-anchor="middle" letter-spacing="0.6" fill="#000" stroke="#000" stroke-width="0.25">*</text>
<text x="167.30" y="532.30" font-size="10" text-anchor="middle" letter-spacing="0.6" fill="#000" stroke="#000" stroke-width="0.25">*</text>
<text x="16.00" y="572.00" font-size="8.4" text-anchor="middle" font-weight="bold" transform="rotate(-90 16.00 572.00)" fill="#000" stroke="#000" stroke-width="0.1">NOS1 Protein levels</text>
<text x="25.20" y="572.00" font-size="8.4" text-anchor="middle" font-weight="bold" transform="rotate(-90 25.20 572.00)" fill="#000" stroke="#000" stroke-width="0.1">(fold of NB shCtr)</text>
<line x1="314.50" y1="455.80" x2="314.50" y2="530.30" stroke="#000" stroke-width="1.1"/>
<line x1="314.00" y1="529.80" x2="417.50" y2="529.80" stroke="#000" stroke-width="1.1"/>
<line x1="312.00" y1="529.80" x2="314.50" y2="529.80" stroke="#000" stroke-width="1.1"/>
<text x="308.50" y="532.70" font-size="8.4" text-anchor="end" fill="#000" stroke="#000" stroke-width="0.18">0</text>
<line x1="312.00" y1="515.00" x2="314.50" y2="515.00" stroke="#000" stroke-width="1.1"/>
<text x="308.50" y="517.90" font-size="8.4" text-anchor="end" fill="#000" stroke="#000" stroke-width="0.18">0.5</text>
<line x1="312.00" y1="500.20" x2="314.50" y2="500.20" stroke="#000" stroke-width="1.1"/>
<text x="308.50" y="503.10" font-size="8.4" text-anchor="end" fill="#000" stroke="#000" stroke-width="0.18">1</text>
<line x1="312.00" y1="485.40" x2="314.50" y2="485.40" stroke="#000" stroke-width="1.1"/>
<text x="308.50" y="488.30" font-size="8.4" text-anchor="end" fill="#000" stroke="#000" stroke-width="0.18">1.5</text>
<line x1="312.00" y1="470.60" x2="314.50" y2="470.60" stroke="#000" stroke-width="1.1"/>
<text x="308.50" y="473.50" font-size="8.4" text-anchor="end" fill="#000" stroke="#000" stroke-width="0.18">2</text>
<line x1="312.00" y1="455.80" x2="314.50" y2="455.80" stroke="#000" stroke-width="1.1"/>
<text x="308.50" y="458.70" font-size="8.4" text-anchor="end" fill="#000" stroke="#000" stroke-width="0.18">2.5</text>
<line x1="348.83" y1="529.80" x2="348.83" y2="532.80" stroke="#000" stroke-width="1.1"/>
<rect x="322.30" y="500.20" width="10.10" height="29.60" fill="#fff" stroke="#000" stroke-width="1.0"/>
<line x1="337.45" y1="463.50" x2="337.45" y2="467.05" stroke="#000" stroke-width="1.2"/>
<line x1="334.65" y1="463.50" x2="340.25" y2="463.50" stroke="#000" stroke-width="1.2"/>
<rect x="332.40" y="467.05" width="10.10" height="62.75" fill="#000" stroke="#000" stroke-width="1.0"/>
<text x="334.37" y="539.80" font-size="8.4" text-anchor="end" transform="rotate(-45 334.37 539.80)" fill="#000" stroke="#000" stroke-width="0.18">shCtr</text>
<line x1="383.17" y1="529.80" x2="383.17" y2="532.80" stroke="#000" stroke-width="1.1"/>
<line x1="361.68" y1="487.77" x2="361.68" y2="493.69" stroke="#000" stroke-width="1.2"/>
<line x1="358.88" y1="487.77" x2="364.48" y2="487.77" stroke="#000" stroke-width="1.2"/>
<rect x="356.63" y="493.69" width="10.10" height="36.11" fill="#fff" stroke="#000" stroke-width="1.0"/>
<line x1="371.78" y1="482.74" x2="371.78" y2="486.58" stroke="#000" stroke-width="1.2"/>
<line x1="368.98" y1="482.74" x2="374.58" y2="482.74" stroke="#000" stroke-width="1.2"/>
<rect x="366.73" y="486.58" width="10.10" height="43.22" fill="#000" stroke="#000" stroke-width="1.0"/>
<text x="368.70" y="539.80" font-size="8.4" text-anchor="end" transform="rotate(-45 368.70 539.80)" fill="#000" stroke="#000" stroke-width="0.18">shACKR2:A</text>
<line x1="417.50" y1="529.80" x2="417.50" y2="532.80" stroke="#000" stroke-width="1.1"/>
<line x1="396.02" y1="492.80" x2="396.02" y2="496.06" stroke="#000" stroke-width="1.2"/>
<line x1="393.22" y1="492.80" x2="398.82" y2="492.80" stroke="#000" stroke-width="1.2"/>
<rect x="390.97" y="496.06" width="10.10" height="33.74" fill="#fff" stroke="#000" stroke-width="1.0"/>
<line x1="406.12" y1="480.96" x2="406.12" y2="484.81" stroke="#000" stroke-width="1.2"/>
<line x1="403.32" y1="480.96" x2="408.92" y2="480.96" stroke="#000" stroke-width="1.2"/>
<rect x="401.07" y="484.81" width="10.10" height="44.99" fill="#000" stroke="#000" stroke-width="1.0"/>
<text x="403.03" y="539.80" font-size="8.4" text-anchor="end" transform="rotate(-45 403.03 539.80)" fill="#000" stroke="#000" stroke-width="0.18">shACKR2:B</text>
<line x1="326.00" y1="454.50" x2="335.00" y2="454.50" stroke="#000" stroke-width="1.1"/>
<line x1="339.50" y1="454.50" x2="406.80" y2="454.50" stroke="#000" stroke-width="1.1"/>
<line x1="326.30" y1="454.00" x2="326.30" y2="461.30" stroke="#000" stroke-width="1.1"/>
<line x1="372.50" y1="454.00" x2="372.50" y2="461.30" stroke="#000" stroke-width="1.1"/>
<line x1="406.30" y1="454.00" x2="406.30" y2="461.00" stroke="#000" stroke-width="1.1"/>
<text x="332.80" y="452.60" font-size="10" text-anchor="middle" letter-spacing="0.6" fill="#000" stroke="#000" stroke-width="0.25">***</text>
<text x="357.80" y="452.60" font-size="10" text-anchor="middle" letter-spacing="0.6" fill="#000" stroke="#000" stroke-width="0.25">**</text>
<text x="390.80" y="452.60" font-size="10" text-anchor="middle" letter-spacing="0.6" fill="#000" stroke="#000" stroke-width="0.25">**</text>
<text x="281.00" y="490.00" font-size="8.4" text-anchor="middle" font-weight="bold" transform="rotate(-90 281.00 490.00)" fill="#000" stroke="#000" stroke-width="0.1">Proliferation</text>
<text x="291.00" y="490.00" font-size="8.4" text-anchor="middle" font-weight="bold" transform="rotate(-90 291.00 490.00)" fill="#000" stroke="#000" stroke-width="0.1">(fold of NB shCtr)</text>
<rect x="424.00" y="494.00" width="4.60" height="4.60" fill="#fff" stroke="#000" stroke-width="1.0"/>
<text x="430.00" y="500.30" font-size="8.4" text-anchor="start" fill="#000" stroke="#000" stroke-width="0.18">NIH-ctr</text>
<rect x="424.00" y="510.20" width="4.60" height="4.60" fill="#000" stroke="#000" stroke-width="1.0"/>
<text x="430.00" y="516.20" font-size="8.4" text-anchor="start" fill="#000" stroke="#000" stroke-width="0.18">NIH-CXCL14</text>
</g>
</svg>
</body></html>
